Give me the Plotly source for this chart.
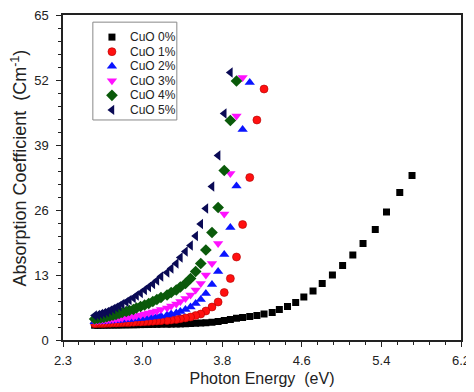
import plotly.graph_objects as go

# Photon energy grid (eV), descending, shared by all samples
energy = [5.72, 5.60, 5.47, 5.36, 5.24, 5.14, 5.04, 4.94, 4.84, 4.75,
          4.66, 4.58, 4.50, 4.42, 4.35, 4.27, 4.20, 4.13, 4.06, 4.00,
          3.94, 3.88, 3.82, 3.76, 3.70, 3.65, 3.60, 3.55, 3.50, 3.45,
          3.41, 3.36, 3.32, 3.26, 3.22, 3.18, 3.14, 3.10, 3.06, 3.02,
          2.99, 2.95, 2.92, 2.88, 2.85, 2.82, 2.79, 2.76, 2.73, 2.70,
          2.67, 2.64, 2.61]

cuo0 = [32.9, 29.5, 25.6, 22.1, 19.3, 17.0, 14.9, 13.0, 11.3, 9.8,
        8.6, 7.5, 6.7, 6.1, 5.5, 5.2, 4.9, 4.7, 4.5, 4.35,
        4.1, 3.9, 3.7, 3.55, 3.45, 3.4, 3.35, 3.3, 3.25,
        3.22, 3.2, 3.18, 3.16, 3.15, 3.14, 3.12, 3.1, 3.09, 3.08,
        3.06, 3.05, 3.04, 3.03, 3.02, 3.01, 3.0, 3.0, 2.99, 2.98,
        2.97, 2.96, 2.95, 2.95]
cuo1 = [50.2, 44.0, 32.5, 23.1, 16.6, 12.3, 9.5, 7.6, 6.6, 5.8,
        5.2, 4.9, 4.6, 4.4, 4.25, 4.1, 4.0, 3.9, 3.85, 3.8,
        3.75, 3.7, 3.65, 3.6, 3.6, 3.55, 3.5, 3.5, 3.45, 3.45,
        3.4, 3.4, 3.35, 3.35, 3.3, 3.3, 3.3, 3.25]
cuo2 = [51.5, 42.1, 30.8, 22.5, 17.1, 13.7, 11.1, 9.3, 8.1, 7.3, 6.6, 6.1,
        5.7, 5.4, 5.2, 5.0, 4.8, 4.7, 4.6, 4.5, 4.4, 4.3, 4.25, 4.2,
        4.1, 4.05, 4.0, 3.95, 3.9, 3.85, 3.8, 3.8, 3.75, 3.7, 3.7, 3.65]
cuo3 = [52.5, 44.8, 33.3, 25.2, 19.3, 15.3, 13.0, 11.3, 10.0, 9.0, 8.3,
        7.7, 7.2, 6.8, 6.4, 6.1, 5.8, 5.6, 5.4, 5.2, 5.0, 4.85, 4.7,
        4.6, 4.5, 4.4, 4.3, 4.2, 4.15, 4.1, 4.0, 3.95, 3.9, 3.85, 3.8]
cuo4 = [51.8, 43.9, 33.9, 26.5, 21.5, 18.0, 15.3, 13.7, 12.3, 11.3,
        10.6, 10.0, 9.5, 9.0, 8.5, 8.1, 7.7, 7.3, 7.0, 6.7, 6.4, 6.1,
        5.9, 5.7, 5.5, 5.3, 5.1, 4.95, 4.8, 4.65, 4.5, 4.4, 4.3, 4.2]
cuo5 = [53.5, 45.3, 36.9, 30.7, 26.3, 23.2, 20.8, 18.9, 17.7, 16.5,
        15.3, 14.3, 13.5, 12.7, 11.9, 11.2, 10.6, 10.0, 9.4, 8.9,
        8.4, 8.0, 7.6, 7.2, 6.8, 6.5, 6.2, 5.9, 5.6, 5.4, 5.2, 5.0, 4.9]

names = ["CuO 0%", "CuO 1%", "CuO 2%", "CuO 3%", "CuO 4%", "CuO 5%"]
series = [cuo0, cuo1, cuo2, cuo3, cuo4, cuo5]
symbols = ["square", "circle", "triangle-up", "triangle-down", "diamond", "triangle-left"]
colors = ["#000000", "#ff1010", "#0a14ff", "#ff10ff", "#0a5a0a", "#0a0a55"]
sizes = [7, 8, 9, 9, 9, 9]

x_tickvals = [2.3, 3.08, 3.86, 4.64, 5.42, 6.2]
x_ticktext = ["2.3", "3.0", "3.8", "4.6", "5.4", "6.2"]
y_tickvals = [0, 13, 26, 39, 52, 65]

FONT = "Liberation Sans, Arial"
fig = go.Figure()
for name, ys, sym, col, sz in zip(names, series, symbols, colors, sizes):
    fig.add_trace(go.Scatter(
        x=energy[-len(ys):], y=ys, mode="markers", name=name, showlegend=False,
        marker=dict(symbol=sym, color=col, size=sz,
                    line=dict(width=0.6 if sym == "circle" else 0,
                              color="#b00000"))))

# Compact legend drawn in plot-fraction coordinates (overlay axes)
leg_x_marker, leg_x_text = 0.123, 0.163
leg_top, leg_step = 0.932, 0.0448
for i, (name, sym, col, sz) in enumerate(zip(names, symbols, colors, sizes)):
    yy = leg_top - i * leg_step
    fig.add_trace(go.Scatter(
        x=[leg_x_marker], y=[yy], mode="markers", xaxis="x2", yaxis="y2",
        showlegend=False, hoverinfo="skip",
        marker=dict(symbol=sym, color=col, size=sz,
                    line=dict(width=0.6 if sym == "circle" else 0, color="#b00000"))))
    fig.add_annotation(x=leg_x_text, y=yy, xref="x2", yref="y2", text=name,
                       showarrow=False, xanchor="left", yanchor="middle",
                       font=dict(family=FONT, size=12, color="#222"))
fig.add_shape(type="rect", xref="x2", yref="y2", x0=0.075, x1=0.286, y0=0.677, y1=0.978,
              line=dict(color="#888", width=1), fillcolor="rgba(0,0,0,0)", layer="below")

# y-axis title as a rotated annotation for precise placement
fig.add_annotation(x=-0.11, y=0.528, xref="paper", yref="paper",
                   text="Absorption Coefficient  (Cm<sup>-1</sup>)", textangle=-90,
                   showarrow=False, xanchor="center", yanchor="middle",
                   font=dict(family=FONT, size=18, color="#222"))

axis_common = dict(showline=True, linecolor="#222", linewidth=1.5, mirror=True,
                   ticks="outside", ticklen=5, tickwidth=1.2, tickcolor="#222",
                   showgrid=False, zeroline=False, automargin=False,
                   ticklabeloverflow="allow",
                   tickfont=dict(family=FONT, size=13, color="#222"))

xaxis = dict(range=[2.3, 6.2], tickmode="array", tickvals=x_tickvals,
             ticktext=x_ticktext, ticklabelstandoff=3,
             minor=dict(ticks="outside", ticklen=3, tickwidth=1, tickcolor="#222",
                        tick0=2.3, dtick=0.156),
             title=dict(text="Photon Energy  (eV)", standoff=5,
                        font=dict(family=FONT, size=16, color="#222")),
             **axis_common)
yaxis = dict(range=[0, 65], tickmode="array", tickvals=y_tickvals,
             ticklabelstandoff=5,
             minor=dict(ticks="outside", ticklen=3, tickwidth=1, tickcolor="#222",
                        tick0=0, dtick=2.6),
             **axis_common)

# the page body adds an 8px offset, so margins are shifted to compensate
fig.update_layout(
    width=474, height=392,
    margin=dict(l=55, r=21, t=7, b=60),
    plot_bgcolor="white", paper_bgcolor="white",
    xaxis=xaxis, yaxis=yaxis,
    xaxis2=dict(overlaying="x", range=[0, 1], visible=False, fixedrange=True,
                anchor="y2"),
    yaxis2=dict(overlaying="y", range=[0, 1], visible=False, fixedrange=True,
                anchor="x2"),
    showlegend=False,
)

fig.write_html("out.html")
